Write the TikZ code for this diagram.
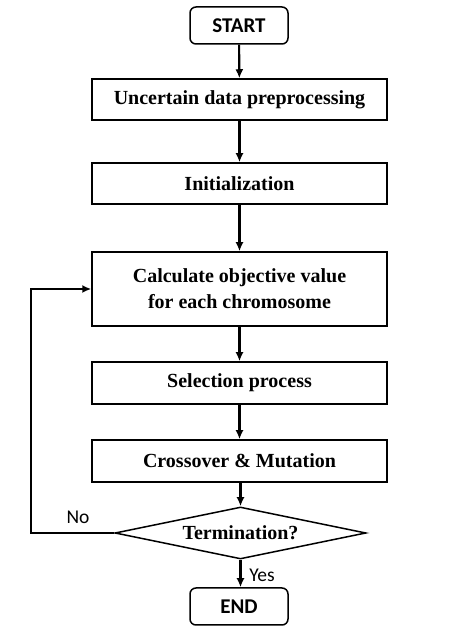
\documentclass[tikz,border=0pt]{standalone}
\usepackage{fontspec}
\setmainfont{Liberation Serif}
\newfontfamily\calib{Carlito}
\usetikzlibrary{shapes.geometric,arrows.meta}
\begin{document}
\begin{tikzpicture}[x=1pt,y=1pt,
  procbox/.style={draw,line width=1.5pt,minimum width=295pt,inner sep=0pt,align=center,font=\fontsize{20}{26}\selectfont\bfseries},
  termbox/.style={draw,line width=1.5pt,rounded corners=6pt,minimum width=98pt,minimum height=37pt,inner sep=0pt,font=\calib\fontsize{21}{24}\selectfont\bfseries},
  decbox/.style={draw,diamond,shape aspect=4.8,line width=1.5pt,minimum width=251pt,minimum height=52pt,inner sep=0pt,font=\fontsize{20}{24}\selectfont\bfseries},
  arr/.style={line width=2.1pt,-{Latex[length=9pt,width=8pt]}},
  lbl/.style={font=\calib\fontsize{19.5}{22}\selectfont}]
\useasboundingbox (0,0) rectangle (474,631);
\node[termbox] (start) at (239,605.5) {START};
\node[procbox,minimum height=41pt] (pre) at (239.5,531.5) {Uncertain data preprocessing};
\node[procbox,minimum height=41pt] (init) at (239.5,447.5) {Initialization};
\node[procbox,minimum height=74pt] (calc) at (239.5,342) {Calculate objective value\\for each chromosome};
\node[procbox,minimum height=42pt] (sel) at (239.5,248) {Selection process};
\node[procbox,minimum height=42pt] (cross) at (239.5,170) {Crossover \& Mutation};
\node[decbox] (dec) at (240.5,98) {Termination?};
\node[termbox] (end) at (239,24.5) {END};
\coordinate (lb) at (31,98);
\coordinate (lt) at (31,342);
\draw[arr] (start) -- (pre);
\draw[arr] (pre) -- (init);
\draw[arr] (init) -- (calc);
\draw[arr] (calc) -- (sel);
\draw[arr] (sel) -- (cross);
\draw[arr] (cross.south -| dec.north) -- (dec.north);
\draw[arr] (dec.south) -- (end.north -| dec.south);
\draw[arr,line width=2.6pt] (dec.west) -- (lb) -- (lt) -- (calc.west);
\node[lbl] (no) at (78,114) {No};
\node[lbl] (yes) at (262,56) {Yes};
\end{tikzpicture}
\end{document}
